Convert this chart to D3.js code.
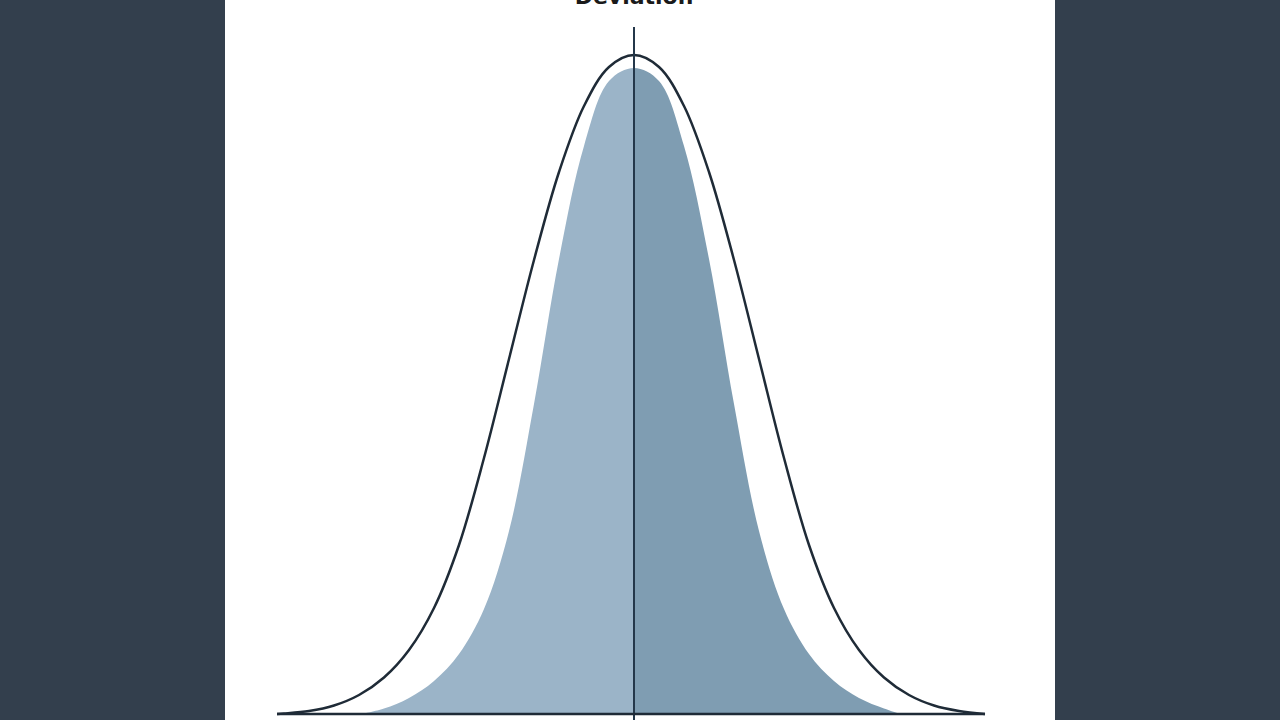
<!DOCTYPE html>
<html>
<head>
<meta charset="utf-8">
<script src="https://cdn.jsdelivr.net/npm/d3@7"></script>
<style>
  html, body { margin: 0; padding: 0; background: #333f4d; }
  svg { display: block; }
</style>
</head>
<body>
<div id="chart"></div>
<script>
// Outer outline curve (x in deviation units, y = height)
const outerX = [-3.57, -3.5, -3.25, -3.0, -2.75, -2.5, -2.25, -2.0, -1.75, -1.5, -1.25, -1.0, -0.75, -0.5, -0.25, 0,
                0.25, 0.5, 0.75, 1.0, 1.25, 1.5, 1.75, 2.0, 2.25, 2.5, 2.75, 3.0, 3.25, 3.51];
const outerY = [0, 0.005, 0.03, 0.085, 0.19, 0.365, 0.64, 1.06, 1.69, 2.56, 3.55, 4.54, 5.42, 6.08, 6.47, 6.59,
                6.47, 6.08, 5.42, 4.54, 3.55, 2.56, 1.69, 1.06, 0.64, 0.365, 0.19, 0.085, 0.03, 0];

// Inner filled curve
const innerX = [-2.72, -2.5, -2.25, -2.0, -1.75, -1.5, -1.25, -1.0, -0.75, -0.5, -0.25, 0,
                0.25, 0.5, 0.75, 1.0, 1.25, 1.5, 1.75, 2.0, 2.25, 2.5, 2.66];
const innerY = [0, 0.054, 0.16, 0.33, 0.60, 1.05, 1.83, 3.10, 4.55, 5.68, 6.33, 6.46,
                6.33, 5.68, 4.55, 3.10, 1.83, 1.05, 0.60, 0.33, 0.16, 0.054, 0];

const meanX = 0;
const titleText = 'Deviation';

const width = 1280;
const height = 720;

const svg = d3.select('#chart')
    .append('svg')
    .attr('width', width)
    .attr('height', height);

// dark backdrop and white card
svg.append('rect')
    .attr('width', width)
    .attr('height', height)
    .style('fill', '#333f4d');

svg.append('rect')
    .attr('x', 225)
    .attr('y', 0)
    .attr('width', 830)
    .attr('height', height)
    .style('fill', '#ffffff');

const x = d3.scaleLinear().domain([-3.57, 3.51]).range([277, 985]);
const y = d3.scaleLinear().domain([0, 7]).range([714, 14]);

const outer = outerX.map((v, i) => [v, outerY[i]]);
const inner = innerX.map((v, i) => [v, innerY[i]]);

const area = d3.area()
    .x(d => x(d[0]))
    .y0(y(0))
    .y1(d => y(d[1]))
    .curve(d3.curveCatmullRom.alpha(0.5));

const line = d3.line()
    .x(d => x(d[0]))
    .y(d => y(d[1]))
    .curve(d3.curveCatmullRom.alpha(0.5));

// clip paths to split the fill at the mean
const defs = svg.append('defs');
defs.append('clipPath').attr('id', 'leftHalf')
    .append('rect')
    .attr('x', 0).attr('y', 0)
    .attr('width', x(meanX)).attr('height', height);
defs.append('clipPath').attr('id', 'rightHalf')
    .append('rect')
    .attr('x', x(meanX)).attr('y', 0)
    .attr('width', width - x(meanX)).attr('height', height);

svg.append('path')
    .attr('d', area(inner))
    .attr('clip-path', 'url(#leftHalf)')
    .style('fill', '#9bb4c8');

svg.append('path')
    .attr('d', area(inner))
    .attr('clip-path', 'url(#rightHalf)')
    .style('fill', '#7f9db2');

// outer outline
svg.append('path')
    .attr('d', line(outer))
    .style('fill', 'none')
    .style('stroke', '#1f2b37')
    .style('stroke-width', 2.5);

// mean line
svg.append('line')
    .attr('x1', x(meanX))
    .attr('x2', x(meanX))
    .attr('y1', 27)
    .attr('y2', height)
    .style('stroke', '#24374a')
    .style('stroke-width', 2);

// baseline
svg.append('line')
    .attr('x1', x(-3.57))
    .attr('x2', x(3.51))
    .attr('y1', y(0))
    .attr('y2', y(0))
    .style('stroke', '#1f2b37')
    .style('stroke-width', 2.5);

// title (mostly cut off at the top)
svg.append('text')
    .attr('x', x(meanX))
    .attr('y', 4)
    .attr('text-anchor', 'middle')
    .style('font-family', 'DejaVu Sans, sans-serif')
    .style('font-weight', 'bold')
    .style('font-size', '22px')
    .style('fill', '#1a1a1a')
    .text(titleText);
</script>
</body>
</html>
